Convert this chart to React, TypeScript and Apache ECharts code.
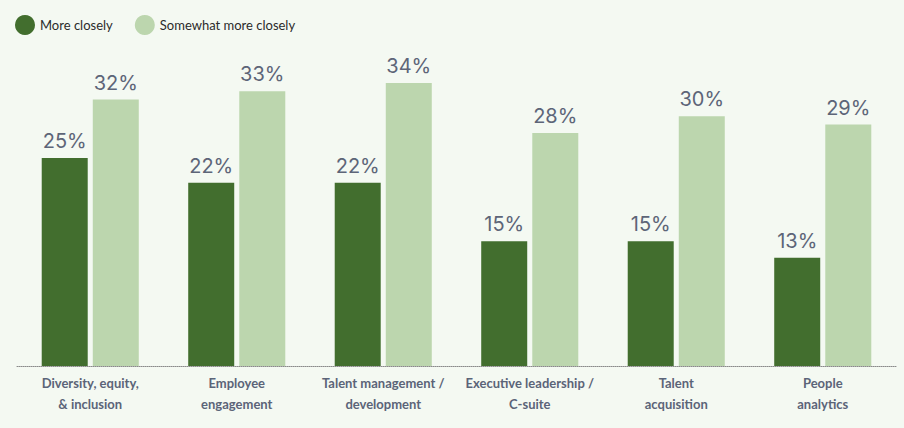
import React, { useEffect, useRef } from "react";
import * as echarts from "echarts";

const categories = [
  "Diversity, equity,\n& inclusion",
  "Employee\nengagement",
  "Talent management /\ndevelopment",
  "Executive leadership /\nC-suite",
  "Talent\nacquisition",
  "People\nanalytics",
];
const moreClosely = [25, 22, 22, 15, 15, 13];
const somewhatMoreClosely = [32, 33, 34, 28, 30, 29];
const seriesNames = ["More closely", "Somewhat more closely"];

export default function App() {
  const ref = useRef<HTMLDivElement>(null);
  useEffect(() => {
    if (!ref.current) return;
    const chart = echarts.init(ref.current, undefined, { renderer: "svg" });
    const labelStyle = {
      show: true,
      position: "top" as const,
      distance: 7,
      formatter: "{c}%",
      fontFamily: "Inter, 'Noto Sans', sans-serif",
      fontSize: 20,
      fontWeight: 400,
      color: "#5d6578",
    };
    chart.setOption({
      animation: false,
      backgroundColor: "#f4f9f2",
      legend: {
        left: 10,
        top: 10,
        itemWidth: 20,
        itemHeight: 20,
        itemGap: 22,
        icon: "circle",
        textStyle: {
          fontFamily: "Lato, 'Noto Sans', sans-serif",
          fontSize: 13,
          color: "#2b2b2b",
          padding: [0, 0, 0, 0],
        },
        data: seriesNames,
      },
      grid: { left: 17, right: 8, top: 33, bottom: 62 },
      xAxis: {
        type: "category",
        data: categories,
        axisLine: { show: true, lineStyle: { color: "#8a8a8a", type: "dotted", width: 1 } },
        axisTick: { show: false },
        axisLabel: {
          margin: 6,
          fontFamily: "Lato, 'Noto Sans', sans-serif",
          fontSize: 13,
          fontWeight: 700,
          lineHeight: 21,
          color: "#5b6478",
          interval: 0,
        },
      },
      yAxis: {
        type: "value",
        min: 0,
        max: 40,
        show: false,
        splitLine: { show: false },
      },
      series: [
        {
          name: seriesNames[0],
          type: "bar",
          data: moreClosely,
          barWidth: 46,
          barGap: "11%",
          itemStyle: { color: "#426e2e" },
          label: labelStyle,
        },
        {
          name: seriesNames[1],
          type: "bar",
          data: somewhatMoreClosely,
          barWidth: 46,
          barGap: "11%",
          itemStyle: { color: "#bcd6ae" },
          label: labelStyle,
        },
      ],
    });
    return () => chart.dispose();
  }, []);
  return <div ref={ref} style={{ width: 904, height: 428, position: "absolute", left: 0, top: 0 }} />;
}
